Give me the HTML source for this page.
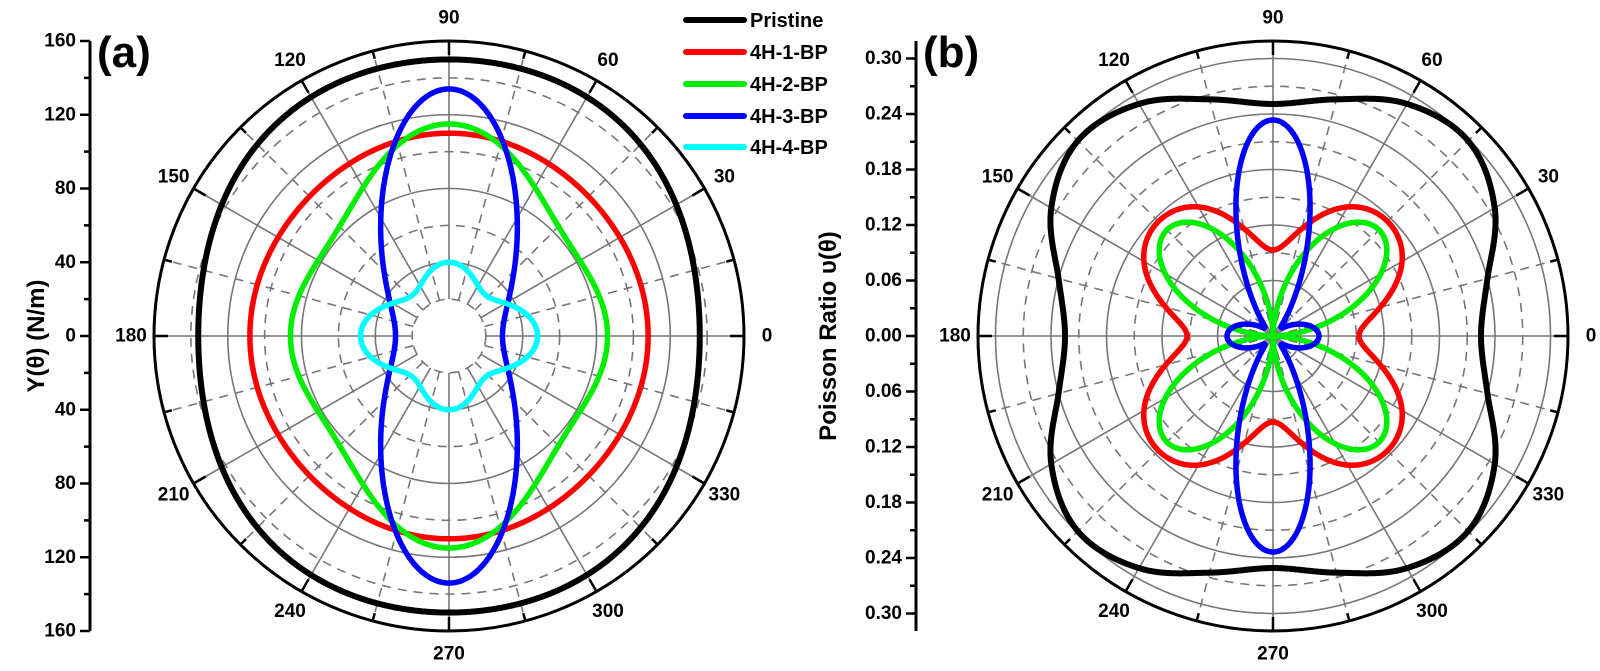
<!DOCTYPE html>
<html><head><meta charset="utf-8"><style>
html,body{margin:0;padding:0;background:#fff;}
svg{display:block;font-family:"Liberation Sans",Arial,sans-serif;font-weight:bold;}
</style></head><body>
<svg id="s" width="1600" height="671" viewBox="0 0 1600 671" xmlns="http://www.w3.org/2000/svg">
<g id="g"></g>
<g stroke-width="6" stroke-linecap="round">
<line x1="686" y1="20" x2="744" y2="20" stroke="#000"/>
<line x1="686" y1="52" x2="744" y2="52" stroke="#f00"/>
<line x1="686" y1="84" x2="744" y2="84" stroke="#0e0"/>
<line x1="686" y1="116" x2="744" y2="116" stroke="#00f"/>
<line x1="686" y1="147" x2="744" y2="147" stroke="#0ff"/>
</g>
<g font-size="20" fill="#000">
<text x="750" y="27">Pristine</text>
<text x="750" y="59">4H-1-BP</text>
<text x="750" y="91">4H-2-BP</text>
<text x="750" y="123">4H-3-BP</text>
<text x="750" y="154">4H-4-BP</text>
</g>
<text x="97" y="67" font-size="44">(a)</text>
<text x="923" y="67" font-size="44">(b)</text>
<text transform="translate(44,336) rotate(-90)" text-anchor="middle" font-size="24">Y(θ) (N/m)</text>
<text transform="translate(836,336) rotate(-90)" text-anchor="middle" font-size="24" font-weight="bold">Poisson Ratio υ(θ)</text>
</svg>
<script>
var NS="http://www.w3.org/2000/svg",G=document.getElementById('g');
function el(t,a,p){var e=document.createElementNS(NS,t);for(var k in a)e.setAttribute(k,a[k]);(p||G).appendChild(e);return e;}
function txt(x,y,s,sz,anc){var e=el('text',{x:x,y:y,'font-size':sz,'text-anchor':anc||'middle','dominant-baseline':'central'});e.textContent=s;}
function D(a){return a*Math.PI/180;}
function polar(cx,cy,R,rings,inner){
  rings.forEach(function(q){el('circle',{cx:cx,cy:cy,r:q.r,fill:'none',stroke:'#777','stroke-width':1.6,'stroke-dasharray':q.d?'9,7':'none'});});
  for(var a=0;a<360;a+=15){
    var c=Math.cos(D(a)),s=-Math.sin(D(a));
    var maj=a%30==0;
    el('line',{x1:cx+inner*c,y1:cy+inner*s,x2:cx+R*c,y2:cy+R*s,stroke:'#777','stroke-width':1.6,'stroke-dasharray':maj?'none':'9,7'});
    var tl=maj?14:8;
    el('line',{x1:cx+(R-tl)*c,y1:cy+(R-tl)*s,x2:cx+R*c,y2:cy+R*s,stroke:'#000','stroke-width':2.5});
  }
  for(var a=0;a<360;a+=30){txt(cx+318*Math.cos(D(a)),cy-318*Math.sin(D(a)),String(a),19);}
  el('circle',{cx:cx,cy:cy,r:R,fill:'none',stroke:'#000','stroke-width':3});
}
function curve(cx,cy,f,col,w){
  var d='';for(var i=0;i<=1440;i++){var t=D(i/4);var r=f(t);d+=(i?'L':'M')+(cx+r*Math.cos(t)).toFixed(2)+','+(cy-r*Math.sin(t)).toFixed(2);}
  el('path',{d:d,fill:'none',stroke:col,'stroke-width':w||5.5,'stroke-linejoin':'round'});
}
function comp(A,B,C,k){return function(t){var c2=Math.cos(t)*Math.cos(t),s2=1-c2;return k/(A*c2*c2+B*s2*s2+C*s2*c2);};}
var ax=449,ay=336,R=295,k=R/160;
var ringsA=[];for(var v=20;v<160;v+=20)ringsA.push({r:v*k,d:(v/20)%2==1});
polar(ax,ay,R,ringsA,20*k);
el('line',{x1:90,y1:ay-R,x2:90,y2:ay+R,stroke:'#000','stroke-width':3});
for(var v=-160;v<=160;v+=20){var y=ay-v*k;var maj=v%40==0;el('line',{x1:90-(maj?10:6),y1:y,x2:90,y2:y,stroke:'#000','stroke-width':2.5});if(maj)txt(76,y,String(Math.abs(v)),19,'end');}
var A,B,C;
A=1/136;B=1/150;C=4/147-A-B;curve(ax,ay,comp(A,B,C,k),'#000',6);
A=1/108;B=1/110;C=4/107-A-B;curve(ax,ay,comp(A,B,C,k),'#f00');
A=1/86;B=1/115;C=4/84-A-B;curve(ax,ay,comp(A,B,C,k),'#0e0');
A=1/29;B=1/134;C=(1/37-A*0.5625-B*0.0625)/0.1875;curve(ax,ay,comp(A,B,C,k),'#00f');
curve(ax,ay,function(t){return k*(37+4*Math.cos(2*t)+7*Math.cos(4*t));},'#0ff');
var bx=1273,by=336,kb=925;
var ringsB=[];for(var i=1;i<=10;i++)ringsB.push({r:i*0.03*kb,d:i%2==1});
polar(bx,by,R,ringsB,0);
el('line',{x1:916,y1:by-R,x2:916,y2:by+R,stroke:'#000','stroke-width':3});
for(var i=-10;i<=10;i++){var y=by-i*0.03*kb;var maj=i%2==0;el('line',{x1:916-(maj?10:6),y1:y,x2:916,y2:y,stroke:'#000','stroke-width':2.5});if(maj)txt(902,y,(Math.abs(i)*0.03).toFixed(2),19,'end');}
var P=[208,222,256,276,268,245,232];
function pr(t){var a=((t*180/Math.PI)%180+180)%180;if(a>90)a=180-a;var x=a/15,i=Math.min(5,Math.floor(x)),f=x-i;
 function g(j){if(j<0)return P[-j];if(j>6)return P[12-j];return P[j];}
 var p0=g(i-1),p1=g(i),p2=g(i+1),p3=g(i+2);
 return 0.5*((2*p1)+(-p0+p2)*f+(2*p0-5*p1+4*p2-p3)*f*f+(-p0+3*p1-3*p2+p3)*f*f*f);}
curve(bx,by,pr,'#000',6);
curve(bx,by,function(t){return 128-38*Math.cos(4*t)-4*Math.cos(8*t);},'#f00');
curve(bx,by,function(t){return 150*Math.pow(Math.abs(Math.sin(2*t)),1.3);},'#0e0');
curve(bx,by,function(t){return 216*Math.pow(Math.abs(Math.sin(t)),12)+46*Math.pow(Math.abs(Math.cos(t)),5);},'#00f');
</script>
</body></html>
